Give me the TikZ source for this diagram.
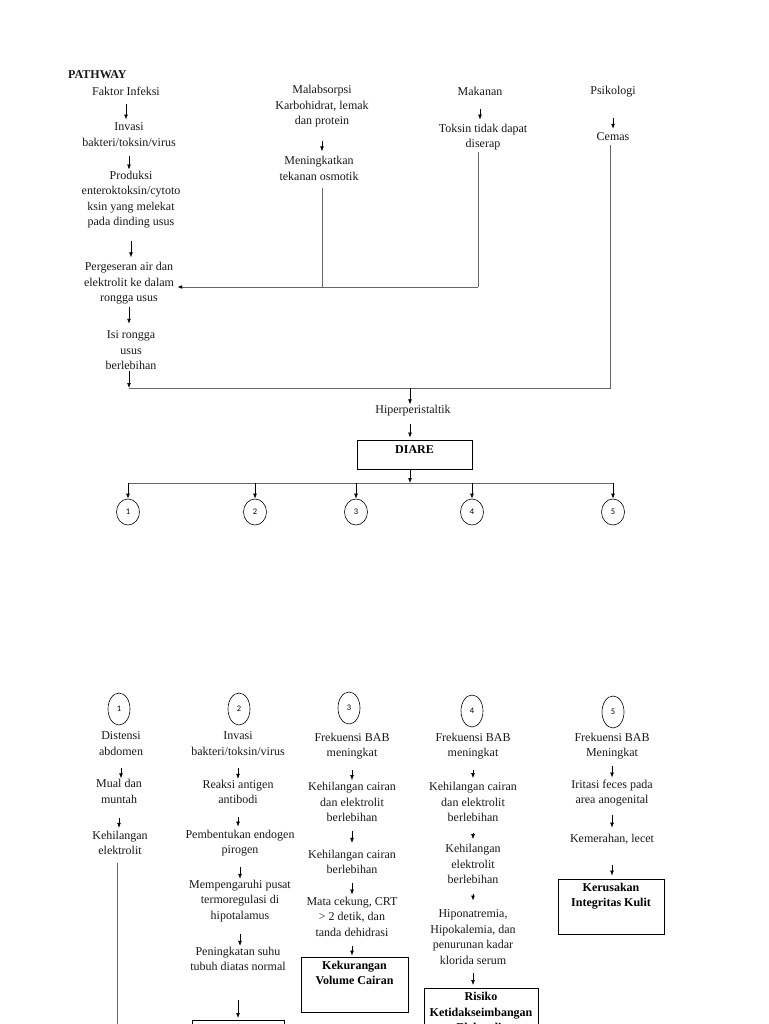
\documentclass[tikz,border=0pt]{standalone}
\usepackage{fontspec}
\setmainfont{Liberation Serif}
\newfontfamily\numfont{Carlito}
\usetikzlibrary{arrows.meta,shapes.geometric,calc}
\newcommand\fs{\fontsize{12}{15.5}\selectfont}
\newcommand\myflow[4]{\draw[arr,shorten <=#3pt,shorten >=#4pt] (#1.south) -- (#1.south |- #2.north);}
\tikzset{
  txt/.style={align=center,font=\fs,inner sep=1pt,text=black!90},
  arr/.style={-{Latex[length=5pt,width=3.8pt]},line width=0.6pt,draw=black},
  conn/.style={line width=0.8pt,draw=black!60},
  circ/.style={draw,line width=0.6pt,ellipse,minimum width=23pt,minimum height=26pt,inner sep=0pt,font=\numfont\fontsize{8.5}{9}\selectfont},
  oval/.style={draw,line width=0.6pt,ellipse,minimum width=22pt,minimum height=32pt,inner sep=0pt,font=\numfont\fontsize{8.5}{9}\selectfont},
  box/.style={draw,line width=0.8pt,inner sep=0pt},
  boxlab/.style={anchor=north,align=center,font=\fs\bfseries,inner sep=4pt}
}
\begin{document}
\begin{tikzpicture}[x=1pt,y=-1pt]
\useasboundingbox (0,0) rectangle (768,1024);
\fill[white] (0,0) rectangle (768,1024);
\clip (0,0) rectangle (768,1024);

% ---------- top part ----------
\node[txt,anchor=west,font=\fs\bfseries] (pw) at (67,75) {PATHWAY};
\node[txt] (fi) at (126,91) {Faktor Infeksi};
\node[txt] (inv) at (129,134.5) {Invasi\\bakteri/toksin/virus};
\node[txt] (prod) at (131,199.5) {Produksi\\enteroktoksin/cytoto\\ksin yang melekat\\pada dinding usus};
\node[txt] (perg) at (129,283.5) {Pergeseran air dan\\elektrolit ke dalam\\rongga usus};
\node[txt] (isi) at (131,350.5) {Isi rongga\\usus\\berlebihan};
\node[txt] (mal) at (322,106.5) {Malabsorpsi\\Karbohidrat, lemak\\dan protein};
\node[txt] (men) at (319,168.5) {Meningkatkan\\tekanan osmotik};
\node[txt] (mak) at (480,91) {Makanan};
\node[txt] (tok) at (483,137) {Toksin tidak dapat\\diserap};
\node[txt] (psi) at (613,92) {Psikologi};
\node[txt] (cem) at (613,137) {Cemas};
\node[txt] (hip) at (413,411) {Hiperperistaltik};
\node[box,minimum width=115pt,minimum height=29pt,
  label={[boxlab,inner sep=6pt]north:DIARE}] (diare) at (414.5,454.5) {};

\myflow{fi}{inv}{8}{2}
\myflow{inv}{prod}{9}{0}
\myflow{prod}{perg}{12}{4}
\myflow{perg}{isi}{1}{6}
\myflow{mal}{men}{12}{4}
\myflow{mak}{tok}{13}{3}
\myflow{psi}{cem}{19}{3}

% collectors
\coordinate (menB) at (322,188);
\coordinate (kM) at (322,287);
\coordinate (tokB) at (478,152);
\coordinate (kR) at (478,287);
\draw[conn] (menB) -- (kM);
\draw[conn] (tokB) -- (kR);
\draw[conn,-{Latex[length=5pt,width=3.8pt,black]},shorten >=2pt] (kR) -- (perg.east |- kR);

\coordinate (cemB) at (610,145);
\coordinate (jR) at (610,388);
\coordinate (jL) at (129,388);
\coordinate (jM) at (410,388);
\draw[conn] (cemB) -- (jR) -- (jL);
\draw[arr] (isi.south -| jL) -- (jL);
\draw[arr] (jM) -- (jM |- hip.north);
\draw[arr,shorten <=6pt,shorten >=2pt] (hip.south -| jM) -- (jM |- diare.north);

\coordinate (dM) at (410,483);
\coordinate (hL) at (129,483);
\coordinate (hR) at (613,483);
\draw[arr] (diare.south -| dM) -- (dM);
\draw[conn] (hL) -- (hR);

\node[circ] (c1) at (128,512) {1};
\node[circ] (c2) at (255,512) {2};
\node[circ] (c3) at (356,512) {3};
\node[circ] (c4) at (472,512) {4};
\node[circ] (c5) at (613,512) {5};
\foreach \c in {c1,c2,c3,c4,c5}{
  \draw[arr] (\c.north |- hL) -- (\c.north);
}

% ---------- bottom part ----------
\node[oval] (e1) at (119,709) {1};
\node[oval] (e2) at (239,709) {2};
\node[oval] (e3) at (349,708) {3};
\node[oval] (e4) at (472,711) {4};
\node[oval] (e5) at (613,712) {5};

% column 1
\node[txt,fill=white] (b1a) at (121,743.5) {Distensi\\abdomen};
\node[txt] (b1b) at (119,791.5) {Mual dan\\muntah};
\node[txt] (b1c) at (120,843) {Kehilangan\\elektrolit};
\coordinate (l1end) at (117,1040);
\myflow{b1a}{b1b}{12}{0}
\myflow{b1b}{b1c}{13}{2}
\draw[conn,shorten <=7pt] (b1c.south -| l1end) -- (l1end);

% column 2
\node[txt,fill=white] (b2a) at (238,743.5) {Invasi\\bakteri/toksin/virus};
\node[txt] (b2b) at (238,792) {Reaksi antigen\\antibodi};
\node[txt] (b2c) at (240,843) {Pembentukan endogen\\pirogen};
\node[txt] (b2d) at (240,901) {Mempengaruhi pusat\\termoregulasi di\\hipotalamus};
\node[txt] (b2e) at (238,959) {Peningkatan suhu\\tubuh diatas normal};
\node[box,minimum width=92pt,minimum height=55pt,anchor=north] (box2) at (238,1020) {};
\myflow{b2a}{b2b}{12}{0}
\myflow{b2b}{b2c}{12}{2}
\myflow{b2c}{b2d}{10}{0}
\myflow{b2d}{b2e}{11}{0}
\myflow{b2e}{box2}{28}{2}

% column 3
\node[txt,fill=white] (b3a) at (352,746) {Frekuensi BAB\\meningkat};
\node[txt] (b3b) at (352,802) {Kehilangan cairan\\dan elektrolit\\berlebihan};
\node[txt] (b3c) at (352,862) {Kehilangan cairan\\berlebihan};
\node[txt] (b3d) at (352,916.5) {Mata cekung, CRT\\> 2 detik, dan\\tanda dehidrasi};
\node[box,minimum width=107pt,minimum height=55pt,
  label={[boxlab]north:Kekurangan\\Volume Cairan}] (box3) at (354.5,984.5) {};
\myflow{b3a}{b3b}{10}{1}
\myflow{b3b}{b3c}{8}{6}
\myflow{b3c}{b3d}{8}{1}
\myflow{b3d}{box3}{9}{1}

% column 4
\node[txt,fill=white] (b4a) at (473,746) {Frekuensi BAB\\meningkat};
\node[txt] (b4b) at (473,802) {Kehilangan cairan\\dan elektrolit\\berlebihan};
\node[txt] (b4c) at (473,864) {Kehilangan\\elektrolit\\berlebihan};
\node[txt] (b4d) at (473,937) {Hiponatremia,\\Hipokalemia, dan\\penurunan kadar\\klorida serum};
\node[box,minimum width=114pt,minimum height=60pt,anchor=north,
  label={[boxlab]north:Risiko\\Ketidakseimbangan\\Elektrolit}] (box4) at (481,988) {};
\myflow{b4a}{b4b}{10}{3}
\myflow{b4b}{b4c}{10}{4}
\myflow{b4c}{b4d}{9}{8}
\myflow{b4d}{box4}{8}{3}

% column 5
\node[txt,fill=white] (b5a) at (612,746) {Frekuensi BAB\\Meningkat};
\node[txt] (b5b) at (612,793) {Iritasi feces pada\\area anogenital};
\node[txt] (b5c) at (612,839) {Kemerahan, lecet};
\node[box,minimum width=106pt,minimum height=55pt,
  label={[boxlab]north:Kerusakan\\Integritas Kulit}] (box5) at (611,906.5) {};
\myflow{b5a}{b5b}{6}{1}
\myflow{b5b}{b5c}{8}{5}
\myflow{b5c}{box5}{20}{3}
\end{tikzpicture}
\end{document}
